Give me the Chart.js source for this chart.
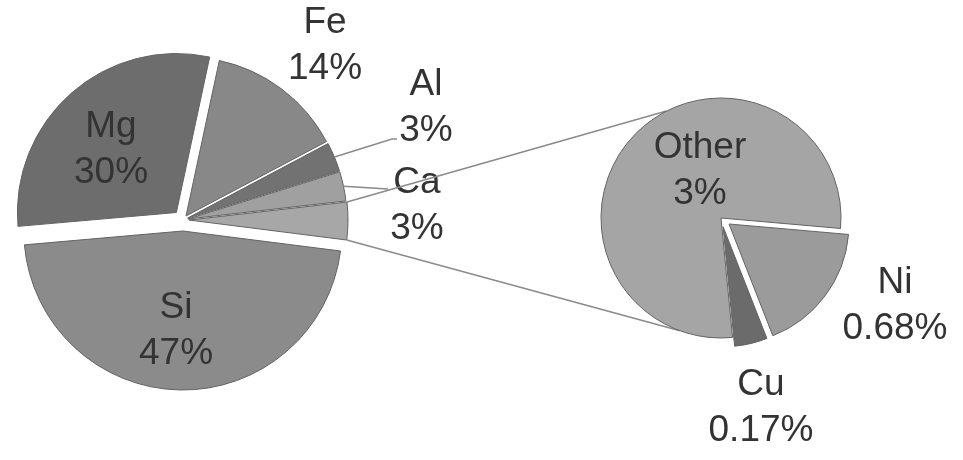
<!DOCTYPE html>
<html>
<head>
<meta charset="utf-8">
<script src="https://cdn.jsdelivr.net/npm/chart.js@4/dist/chart.umd.min.js"></script>
<style>
  html, body { margin: 0; padding: 0; background: #ffffff; }
  #wrap { position: relative; width: 963px; height: 460px; overflow: hidden; }
  canvas { position: absolute; left: 0; top: 0; }
</style>
</head>
<body>
<div id="wrap">
  <canvas id="mainPie" width="963" height="460"></canvas>
  <canvas id="subPie" width="963" height="460"></canvas>
</div>
<script>
// ---------- data ----------
const mainCategories = ['Mg', 'Fe', 'Al', 'Ca', 'Other', 'Si'];
const mainValues     = [30, 14, 3, 3, 3.85, 47];
const mainLabelled   = [true, true, true, true, false, true];

const subCategories  = ['Ni', 'Cu', 'Other'];
const subValues      = [0.68, 0.17, 3];

// ---------- styles / layout ----------
const mainColors  = ['#6d6d6d', '#888888', '#727272', '#a0a0a0', '#a7a7a7', '#8b8b8b'];
const subColors   = ['#9b9b9b', '#6b6b6b', '#a5a5a5'];
const mainExplode = [10, 5, 5, 5, 6, 11];
const subExplode  = [10, 9, 0];
const FONT = '37px "Liberation Sans", Arial, Helvetica, sans-serif';
const TEXT_COLOR = '#333333';
const LINE_GAP = 46;
// label anchor: centre x and first-line baseline y
const mainLabelPos = {
  Mg: [111, 137], Fe: [325, 33], Al: [426, 95], Ca: [417, 193], Si: [176, 318]
};
const subLabelPos = {
  Other: [700, 158], Ni: [895, 293], Cu: [761, 395]
};
// leader lines (from slice edge to these points)
const leaderEnds = {
  Al: [[392, 139], [397, 139]],
  Ca: [[388, 189]]
};
// connector target angles on the secondary pie (degrees, math convention)
const connectorAngles = [117, 250];

function makeExplode(amounts) {
  return {
    id: 'explode',
    afterDatasetsUpdate(chart) {
      const meta = chart.getDatasetMeta(0);
      meta.data.forEach((el, i) => {
        const e = amounts[i] || 0;
        const mid = (el.startAngle + el.endAngle) / 2;
        el.x += Math.cos(mid) * e;
        el.y += Math.sin(mid) * e;
      });
    }
  };
}

function drawLabel(ctx, cx, y, lines) {
  ctx.save();
  ctx.font = FONT;
  ctx.fillStyle = TEXT_COLOR;
  ctx.textAlign = 'center';
  ctx.textBaseline = 'alphabetic';
  lines.forEach((t, k) => ctx.fillText(t, cx, y + k * LINE_GAP));
  ctx.restore();
}

function edgeMid(el) {
  const mid = (el.startAngle + el.endAngle) / 2;
  return [el.x + Math.cos(mid) * el.outerRadius, el.y + Math.sin(mid) * el.outerRadius];
}

const mainLabelsPlugin = {
  id: 'mainLabels',
  afterDatasetsDraw(chart) {
    const ctx = chart.ctx;
    const meta = chart.getDatasetMeta(0);
    ctx.save();
    ctx.strokeStyle = '#8a8a8a';
    ctx.lineWidth = 1.5;
    Object.keys(leaderEnds).forEach(cat => {
      const i = mainCategories.indexOf(cat);
      const el = meta.data[i];
      const p = edgeMid(el);
      ctx.beginPath();
      ctx.moveTo(p[0], p[1]);
      leaderEnds[cat].forEach(q => ctx.lineTo(q[0], q[1]));
      ctx.stroke();
    });
    ctx.restore();
    mainCategories.forEach((cat, i) => {
      if (!mainLabelled[i]) return;
      const pos = mainLabelPos[cat];
      drawLabel(ctx, pos[0], pos[1], [cat, mainValues[i] + '%']);
    });
  }
};

const mainChart = new Chart(document.getElementById('mainPie'), {
  type: 'pie',
  data: {
    labels: mainCategories,
    datasets: [{
      data: mainValues,
      backgroundColor: mainColors,
      borderColor: '#636363',
      borderWidth: 1,
      radius: 159
    }]
  },
  options: {
    responsive: false,
    animation: false,
    rotation: 265,
    radius: 159,
    layout: { padding: { left: 0, top: 0, right: 597, bottom: 20 } },
    plugins: { legend: { display: false }, tooltip: { enabled: false } },
    events: []
  },
  plugins: [makeExplode(mainExplode), mainLabelsPlugin]
});

const subPlugin = {
  id: 'subLabels',
  beforeDatasetsDraw(chart) {
    const ctx = chart.ctx;
    const mMeta = mainChart.getDatasetMeta(0);
    const other = mMeta.data[mainCategories.indexOf('Other')];
    const sMeta = chart.getDatasetMeta(0);
    const sOther = sMeta.data[subCategories.indexOf('Other')];
    const starts = [other.startAngle, other.endAngle];
    ctx.save();
    ctx.strokeStyle = '#8a8a8a';
    ctx.lineWidth = 1.5;
    starts.forEach((a, k) => {
      const x0 = other.x + Math.cos(a) * other.outerRadius;
      const y0 = other.y + Math.sin(a) * other.outerRadius;
      const b = -connectorAngles[k] * Math.PI / 180;
      const x1 = sOther.x + Math.cos(b) * sOther.outerRadius;
      const y1 = sOther.y + Math.sin(b) * sOther.outerRadius;
      ctx.beginPath();
      ctx.moveTo(x0, y0);
      ctx.lineTo(x1, y1);
      ctx.stroke();
    });
    ctx.restore();
  },
  afterDatasetsDraw(chart) {
    const ctx = chart.ctx;
    subCategories.forEach((cat, i) => {
      const pos = subLabelPos[cat];
      drawLabel(ctx, pos[0], pos[1], [cat, subValues[i] + '%']);
    });
  }
};

new Chart(document.getElementById('subPie'), {
  type: 'pie',
  data: {
    labels: subCategories,
    datasets: [{
      data: subValues,
      backgroundColor: subColors,
      borderColor: '#636363',
      borderWidth: 1,
      radius: 120
    }]
  },
  options: {
    responsive: false,
    animation: false,
    rotation: 95,
    radius: 120,
    layout: { padding: { left: 600, top: 98, right: 121, bottom: 122 } },
    plugins: { legend: { display: false }, tooltip: { enabled: false } },
    events: []
  },
  plugins: [makeExplode(subExplode), subPlugin]
});
</script>
</body>
</html>
